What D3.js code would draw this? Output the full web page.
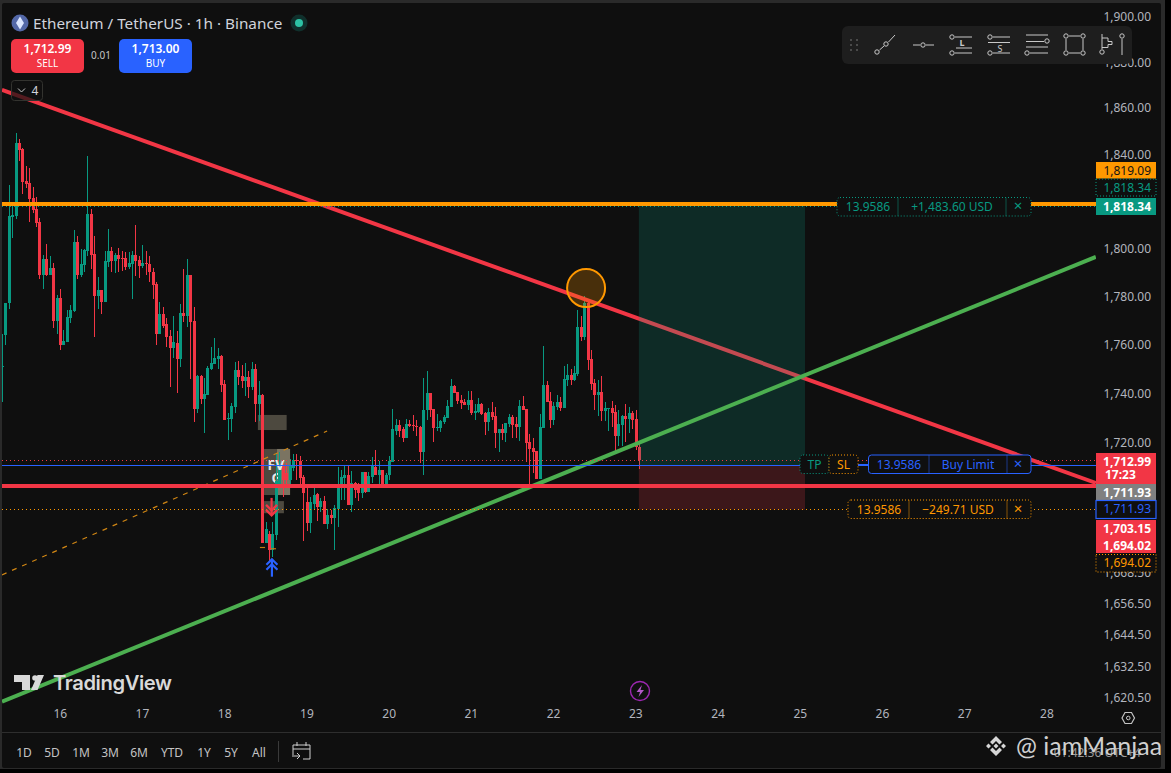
<!DOCTYPE html>
<html lang='en'>

<head>
    <meta charset='utf-8'>
    <title>ETHUSDT 1h</title>
    <style>
        html,
        body {
            margin: 0;
            background-color: #000;
            overflow: hidden;
        }

        svg {
            display: block;
            font-family: 'Noto Sans', sans-serif;
        }
    </style>
    <script src='https://d3js.org/d3.v7.min.js' charset='utf-8'></script>
</head>

<body>
    <div id='placeholder'></div>
    <script type="text/javascript">
        const WIDTH = 1171;
        const HEIGHT = 773;

        const GREEN = '#089981';
        const RED = '#f23645';
        const BLUE = '#2962ff';
        const ORANGE = '#ff9800';
        const PANEL = '#0f0f0f';
        const GRAY = '#b2b5be';

        // hourly candles, first one is bar 0, midnight of the 16th is bar 17
        const opens = [1751.0, 1764.1, 1777.0, 1813.1, 1813.6, 1844.8, 1842.4, 1828.6, 1827.8, 1821.3, 1816.6, 1811.1, 1789.0, 1795.5, 1789.0, 1791.9, 1769.6, 1779.1, 1759.9, 1761.2,
            1770.8, 1773.7, 1802.7, 1789.0, 1793.2, 1799.1, 1814.4, 1797.8, 1779.9, 1782.4, 1777.4, 1794.4, 1799.0, 1794.9, 1797.3, 1796.0, 1796.1, 1792.4, 1793.6, 1797.3,
            1795.3, 1792.8, 1794.0, 1793.6, 1790.3, 1784.9, 1764.5, 1772.8, 1768.3, 1763.7, 1758.7, 1760.8, 1754.1, 1773.2, 1771.6, 1789.0, 1769.9, 1733.8, 1747.1, 1737.9,
            1739.2, 1750.0, 1752.1, 1754.1, 1755.4, 1743.7, 1729.6, 1729.6, 1734.6, 1749.6, 1747.1, 1745.0, 1746.7, 1742.5, 1750.0, 1735.9, 1739.2, 1680.3, 1683.9, 1677.6,
            1683.5, 1703.2, 1710.7, 1708.0, 1705.3, 1710.0, 1713.1, 1712.7, 1706.2, 1696.5, 1688.0, 1695.8, 1699.5, 1694.5, 1696.9, 1687.7, 1691.2, 1690.0, 1693.8, 1702.6,
            1706.0, 1707.0, 1695.2, 1703.8, 1703.3, 1699.9, 1708.2, 1700.5, 1706.2, 1710.3, 1707.3, 1709.0, 1703.3, 1707.0, 1712.3, 1725.0, 1727.1, 1725.5, 1721.8, 1727.8,
            1727.1, 1726.8, 1726.3, 1716.4, 1733.3, 1740.3, 1733.7, 1725.9, 1725.9, 1728.3, 1730.0, 1734.5, 1743.1, 1740.7, 1737.4, 1736.6, 1735.3, 1737.4, 1732.0, 1732.4,
            1735.7, 1732.0, 1728.3, 1732.4, 1730.8, 1724.2, 1725.5, 1724.2, 1727.5, 1730.4, 1727.5, 1726.3, 1734.9, 1733.7, 1720.5, 1718.1, 1716.8, 1705.7, 1725.9, 1743.5,
            1737.0, 1729.2, 1734.5, 1736.6, 1734.1, 1745.6, 1747.7, 1745.6, 1748.1, 1767.4, 1763.3, 1777.2, 1754.2, 1744.4, 1739.4, 1740.7, 1732.9, 1733.7, 1734.1, 1732.4,
            1723.0, 1727.1, 1730.8, 1729.6, 1732.0, 1729.6, 1718.5];
        const highs = [1764.5, 1777.3, 1826.8, 1818.1, 1849.2, 1846.6, 1842.6, 1835.0, 1834.1, 1826.0, 1821.7, 1813.0, 1797.3, 1801.8, 1796.9, 1793.9, 1780.7, 1783.2, 1765.8, 1774.1,
            1776.2, 1807.7, 1805.2, 1799.8, 1799.8, 1839.3, 1816.5, 1805.2, 1788.2, 1782.4, 1799.0, 1808.2, 1800.7, 1798.2, 1800.3, 1799.0, 1798.6, 1798.6, 1799.0, 1809.8,
            1796.9, 1801.5, 1799.0, 1796.9, 1791.9, 1786.1, 1777.4, 1775.7, 1770.8, 1765.8, 1771.6, 1765.4, 1776.6, 1791.5, 1795.7, 1789.0, 1775.7, 1747.5, 1747.5, 1746.2,
            1751.2, 1759.1, 1762.9, 1758.7, 1755.8, 1745.4, 1732.1, 1736.3, 1752.9, 1753.3, 1751.6, 1752.5, 1749.1, 1752.9, 1752.1, 1745.0, 1739.6, 1688.4, 1685.0, 1688.4,
            1716.1, 1716.3, 1712.7, 1712.0, 1713.4, 1715.4, 1715.4, 1714.7, 1707.3, 1701.9, 1698.5, 1702.6, 1700.1, 1698.1, 1698.8, 1693.8, 1693.1, 1695.2, 1710.3, 1709.3,
            1711.1, 1711.1, 1708.9, 1704.2, 1703.9, 1708.2, 1708.2, 1708.2, 1714.3, 1717.2, 1712.7, 1709.3, 1708.1, 1714.8, 1733.7, 1729.6, 1729.2, 1726.3, 1729.6, 1729.2,
            1731.2, 1729.2, 1726.7, 1746.4, 1749.3, 1740.3, 1733.7, 1731.6, 1729.2, 1731.2, 1737.4, 1746.0, 1743.5, 1740.7, 1739.4, 1737.8, 1741.1, 1741.1, 1735.7, 1738.2,
            1736.1, 1732.4, 1734.1, 1736.6, 1734.5, 1725.5, 1727.5, 1727.9, 1731.6, 1731.2, 1730.4, 1737.4, 1739.0, 1733.7, 1723.7, 1721.8, 1716.8, 1731.6, 1759.6, 1745.2,
            1740.7, 1736.6, 1739.4, 1738.6, 1751.4, 1752.2, 1750.1, 1751.4, 1774.4, 1771.9, 1779.9, 1778.5, 1757.9, 1746.0, 1745.6, 1747.2, 1736.6, 1734.1, 1737.0, 1735.3,
            1733.3, 1731.2, 1735.7, 1734.5, 1732.9, 1733.3, 1720.9];
        const lows = [1736.7, 1759.9, 1774.5, 1804.5, 1812.6, 1837.1, 1823.0, 1825.6, 1811.1, 1814.9, 1809.1, 1787.0, 1782.8, 1788.6, 1789.0, 1766.9, 1764.5, 1757.9, 1759.9, 1761.2,
            1768.7, 1773.4, 1787.0, 1788.2, 1790.3, 1796.7, 1791.5, 1763.3, 1774.5, 1772.8, 1777.4, 1792.4, 1789.9, 1789.5, 1790.3, 1790.7, 1791.1, 1791.5, 1778.7, 1788.6,
            1787.4, 1791.9, 1789.0, 1786.1, 1778.7, 1759.9, 1764.5, 1767.0, 1759.1, 1742.5, 1754.6, 1740.4, 1750.8, 1769.5, 1767.4, 1745.8, 1728.4, 1732.1, 1735.9, 1724.2,
            1739.2, 1749.6, 1752.1, 1750.0, 1740.8, 1729.2, 1721.3, 1724.6, 1732.1, 1743.3, 1742.1, 1738.8, 1738.3, 1741.3, 1728.4, 1728.8, 1680.3, 1680.3, 1672.6, 1674.6,
            1681.6, 1702.8, 1698.5, 1701.9, 1702.6, 1708.7, 1705.3, 1703.2, 1681.0, 1685.0, 1684.3, 1693.8, 1688.8, 1692.5, 1687.7, 1685.7, 1687.7, 1677.6, 1686.4, 1697.2,
            1697.2, 1695.2, 1692.5, 1697.9, 1696.9, 1697.9, 1699.9, 1700.5, 1703.9, 1707.3, 1703.7, 1702.9, 1703.3, 1705.3, 1712.3, 1723.4, 1722.2, 1720.5, 1721.8, 1726.3,
            1725.0, 1723.0, 1712.0, 1707.2, 1729.2, 1730.4, 1720.5, 1725.0, 1724.6, 1727.5, 1730.0, 1734.5, 1740.3, 1735.7, 1733.7, 1735.3, 1733.3, 1731.2, 1729.2, 1732.0,
            1731.2, 1723.4, 1725.0, 1729.2, 1718.1, 1716.4, 1721.3, 1720.5, 1726.3, 1721.8, 1721.8, 1720.9, 1733.3, 1712.2, 1702.9, 1707.8, 1705.7, 1705.7, 1725.9, 1736.6,
            1725.9, 1727.1, 1733.3, 1732.9, 1734.1, 1743.1, 1743.5, 1745.2, 1747.2, 1761.6, 1762.0, 1749.7, 1741.5, 1733.3, 1730.8, 1728.7, 1728.7, 1725.0, 1726.3, 1716.4,
            1718.9, 1718.9, 1720.5, 1724.2, 1725.5, 1717.2, 1709.4];
        const closes = [1751.4, 1777.3, 1813.6, 1814.0, 1844.8, 1841.9, 1828.2, 1827.3, 1820.9, 1816.2, 1810.8, 1789.0, 1795.5, 1789.0, 1791.9, 1769.6, 1779.1, 1759.9, 1761.6, 1771.2,
            1774.1, 1802.7, 1789.0, 1793.6, 1799.4, 1814.4, 1797.3, 1779.9, 1782.4, 1777.4, 1794.9, 1799.0, 1794.9, 1797.3, 1795.7, 1795.5, 1792.4, 1794.0, 1797.3, 1794.9,
            1792.8, 1794.0, 1793.6, 1789.9, 1784.5, 1764.5, 1772.8, 1767.8, 1763.3, 1758.7, 1761.2, 1754.1, 1773.2, 1771.6, 1789.0, 1769.5, 1733.8, 1747.1, 1737.9, 1739.6,
            1750.4, 1752.5, 1754.6, 1755.4, 1743.3, 1729.2, 1730.0, 1735.0, 1749.6, 1746.7, 1745.0, 1746.7, 1742.5, 1750.0, 1735.9, 1739.2, 1680.3, 1685.6, 1677.6, 1683.9,
            1704.6, 1710.7, 1705.3, 1705.3, 1710.7, 1713.1, 1712.7, 1706.0, 1699.9, 1688.0, 1696.5, 1699.2, 1694.5, 1696.9, 1687.7, 1691.4, 1690.0, 1694.1, 1702.6, 1706.2,
            1707.0, 1695.2, 1703.8, 1701.4, 1699.9, 1708.2, 1700.5, 1706.6, 1710.7, 1707.3, 1709.1, 1703.3, 1707.2, 1712.6, 1725.5, 1727.1, 1725.0, 1721.8, 1727.8, 1726.7,
            1726.7, 1726.4, 1716.4, 1733.3, 1740.3, 1733.3, 1725.9, 1726.3, 1728.7, 1730.4, 1734.9, 1743.1, 1740.3, 1737.0, 1736.1, 1735.3, 1737.4, 1732.0, 1732.9, 1735.7,
            1731.6, 1728.3, 1732.4, 1730.4, 1724.2, 1725.5, 1724.2, 1727.9, 1730.4, 1727.1, 1726.3, 1734.9, 1733.3, 1720.1, 1717.6, 1716.4, 1705.7, 1726.3, 1743.5, 1736.6,
            1729.2, 1734.9, 1736.6, 1734.1, 1746.0, 1747.7, 1745.6, 1748.5, 1767.4, 1763.3, 1777.2, 1753.8, 1743.9, 1739.4, 1740.7, 1732.9, 1734.1, 1734.1, 1732.0, 1723.0,
            1727.5, 1730.8, 1729.6, 1732.0, 1729.2, 1718.5, 1712.99];

        const dayHours = [17, 41, 65, 89, 113, 137, 161, 185, 209, 233, 257, 281, 305];
        const dayLabels = ['16', '17', '18', '19', '20', '21', '22', '23', '24', '25', '26', '27', '28'];
        const priceTicks = [1900, 1880, 1860, 1840, 1800, 1780, 1760, 1740, 1720, 1668.5, 1656.5, 1644.5, 1632.5, 1620.5];
        const rangeLabels = ['1D', '5D', '1M', '3M', '6M', 'YTD', '1Y', '5Y', 'All'];
        const rangeCenters = [24, 52, 81, 110, 139, 172, 204, 231, 259];

        // drawings, [hour, price]
        const chartEndHour = 319.2;
        const resistance = [[-0.1, 1867.9], [chartEndHour, 1704.0]];
        const support = [[-0.1, 1619.1], [chartEndHour, 1796.4]];
        const dashedTrend = [[-0.1, 1667.8], [94.8, 1724.8]];
        const lowDashes = [[75.2, 1678.5], [76.7, 1678.5], [78.4, 1678.0], [79.9, 1678.0]];
        const tpPrice = 1818.8;
        const tpOrderPrice = 1818.34;
        const tpOrderLine = 1817.5;
        const askPrice = 1712.8;
        const orderPrice = 1711.1;
        const supportPrice = 1702.9;
        const slPrice = 1693.4;
        const tradeHours = [185.8, 234.3];
        const circleAt = [170.4, 1783.4];
        const fvgBoxes = [
            [74.6, 83, 1731.3, 1725.2],
            [76.4, 84, 1717.6, 1699.2],
            [80.2, 84, 1717.6, 1699.2],
            [76.4, 82.2, 1696.8, 1692]
        ];
        const sellArrowAt = [78.6, 1694.5];
        const buyArrowAt = [78.7, 1670.6];

        var x = d3.scaleLinear().domain([0, 186]).range([2.3, 2.3 + 3.426 * 186]);
        var y = d3.scaleLog().domain([1900, 1620.5]).range([17, 698]);
        var line = d3.line().x(function (d) { return x(d[0]); }).y(function (d) { return y(d[1]); });

        var svg = d3.select('#placeholder')
            .append('svg')
            .attr('width', WIDTH)
            .attr('height', HEIGHT);

        // frame
        svg.append('rect').attr('width', WIDTH).attr('height', HEIGHT).attr('fill', '#000');
        svg.append('rect').attr('width', 1165).attr('height', 769).attr('fill', '#2a2a2a');
        svg.append('rect').attr('x', 2).attr('y', 3).attr('width', 1159).attr('height', 765).attr('fill', PANEL).attr('rx', 2);
        svg.append('defs').append('clipPath').attr('id', 'pane')
            .append('rect').attr('x', 2).attr('y', 3).attr('width', 1094).attr('height', 729);

        // price axis sits under the toolbar
        var yAxis = svg.append('g')
            .attr('transform', 'translate(1151,0)')
            .call(d3.axisRight(y).tickValues(priceTicks).tickSize(0).tickPadding(0).tickFormat(d3.format(',.2f')));
        yAxis.select('.domain').remove();
        yAxis.selectAll('text').attr('text-anchor', 'end').attr('fill', GRAY).attr('font-size', 12).attr('font-family', 'Noto Sans');

        var xAxis = svg.append('g')
            .attr('transform', 'translate(-0.8,709)')
            .call(d3.axisBottom(x).tickValues(dayHours).tickSize(0).tickPadding(0).tickFormat(function (d, i) { return dayLabels[i]; }));
        xAxis.select('.domain').remove();
        xAxis.selectAll('text').attr('fill', GRAY).attr('font-size', 12).attr('font-family', 'Noto Sans');

        var pane = svg.append('g').attr('clip-path', 'url(#pane)');

        // fvg boxes are under the candles
        pane.selectAll('.fvg')
            .data(fvgBoxes)
            .enter()
            .append('rect')
            .attr('x', function (d) { return x(d[0]); })
            .attr('y', function (d) { return y(d[2]); })
            .attr('width', function (d) { return x(d[1]) - x(d[0]); })
            .attr('height', function (d) { return y(d[3]) - y(d[2]); })
            .attr('fill', 'rgba(255, 240, 200, 0.26)');
        pane.append('text').text('G').attr('x', 276.5).attr('y', 483).attr('text-anchor', 'middle')
            .attr('font-size', 14).attr('font-weight', 700).attr('fill', '#e8e8e8');

        var candles = pane.selectAll('.candle')
            .data(opens)
            .enter()
            .append('g')
            .attr('shape-rendering', 'crispEdges')
            .attr('fill', function (d, i) { return closes[i] >= d ? GREEN : RED; });
        candles.append('rect')
            .attr('x', function (d, i) { return x(i) - 0.5; })
            .attr('width', 1)
            .attr('y', function (d, i) { return y(highs[i]); })
            .attr('height', function (d, i) { return y(lows[i]) - y(highs[i]); });
        candles.append('rect')
            .attr('x', function (d, i) { return x(i) - 1.5; })
            .attr('width', 3)
            .attr('y', function (d, i) { return y(Math.max(d, closes[i])); })
            .attr('height', function (d, i) { return Math.max(1, Math.abs(y(d) - y(closes[i]))); });

        pane.append('text').text('FV').attr('x', 276).attr('y', 470).attr('text-anchor', 'middle')
            .attr('font-size', 14).attr('font-weight', 700).attr('fill', '#e8e8e8');

        pane.append('path').attr('d', line(dashedTrend)).attr('fill', 'none')
            .attr('stroke', '#d08614').attr('stroke-width', 1.2).attr('stroke-dasharray', '5,6');
        for (var k = 0; k < lowDashes.length; k += 2) {
            pane.append('path').attr('d', line(lowDashes.slice(k, k + 2))).attr('fill', 'none')
                .attr('stroke', '#c47c12').attr('stroke-width', 1.2);
        }
        pane.append('path').attr('d', line(resistance)).attr('fill', 'none').attr('stroke', RED).attr('stroke-width', 4);

        // trade zones go over the falling line only
        pane.append('rect')
            .attr('x', x(tradeHours[0])).attr('width', x(tradeHours[1]) - x(tradeHours[0]))
            .attr('y', y(tpOrderPrice)).attr('height', y(orderPrice) - y(tpOrderPrice))
            .attr('fill', GREEN).attr('fill-opacity', 0.2);
        pane.append('rect')
            .attr('x', x(tradeHours[0])).attr('width', x(tradeHours[1]) - x(tradeHours[0]))
            .attr('y', y(orderPrice)).attr('height', y(slPrice) - y(orderPrice))
            .attr('fill', RED).attr('fill-opacity', 0.2);

        pane.append('path').attr('d', line(support)).attr('fill', 'none').attr('stroke', '#4caf50').attr('stroke-width', 4);

        function level(price, color, width, dash) {
            var h = pane.append('path')
                .attr('d', line([[-0.1, price], [chartEndHour, price]]))
                .attr('stroke', color)
                .attr('stroke-width', width)
                .attr('shape-rendering', 'crispEdges');
            if (dash) {
                h.attr('stroke-dasharray', dash);
            }
        }
        level(askPrice, RED, 1, '1,3');
        level(tpOrderLine, GREEN, 1, '1,3');
        level(slPrice, ORANGE, 1, '1,3');
        level(orderPrice, BLUE, 1);
        level(tpPrice, ORANGE, 4);
        level(supportPrice, RED, 4);

        pane.append('circle')
            .attr('cx', x(circleAt[0])).attr('cy', y(circleAt[1])).attr('r', 19)
            .attr('fill', ORANGE).attr('fill-opacity', 0.24)
            .attr('stroke', ORANGE).attr('stroke-width', 2);

        // signal arrows
        function arrow(at, color, dir) {
            var g = svg.append('g')
                .attr('transform', 'translate(' + x(at[0]) + ',' + y(at[1]) + ') scale(1,' + dir + ')')
                .attr('fill', 'none').attr('stroke', color).attr('stroke-width', 2.2);
            g.append('path').attr('d', 'M0,-8V9');
            g.append('path').attr('d', 'M-5.5,-3L0,-8.5L5.5,-3');
            g.append('path').attr('d', 'M-5.5,2L0,-3.5L5.5,2');
        }
        arrow(sellArrowAt, RED, -1);
        arrow(buyArrowAt, BLUE, 1);

        // tag with dividers, used for the order rows
        function orderTag(x0, x1, top, color, dash, dividers, cells) {
            var g = svg.append('g');
            var r = g.append('rect').attr('x', x0).attr('y', top).attr('width', x1 - x0).attr('height', 18.5)
                .attr('rx', 3).attr('fill', PANEL).attr('stroke', color).attr('stroke-width', 1);
            if (dash) {
                r.attr('stroke-dasharray', '1,2');
            }
            dividers.forEach(function (d) {
                g.append('line').attr('x1', d).attr('x2', d).attr('y1', top).attr('y2', top + 18.5)
                    .attr('stroke', color).attr('stroke-opacity', 0.5);
            });
            cells.forEach(function (c) {
                g.append('text').text(c[1]).attr('x', c[0]).attr('y', top + 13.5).attr('text-anchor', 'middle')
                    .attr('font-size', c[1] === '×' ? 15 : 12).attr('fill', color);
            });
        }
        svg.append('line').attr('x1', 858).attr('x2', 868).attr('y1', 464.5).attr('y2', 464.5).attr('stroke', BLUE);
        orderTag(837, 1031, 197.5, GREEN, true, [898, 1006], [[868, '13.9586'], [952, '+1,483.60 USD'], [1018, '×']]);
        orderTag(800, 829, 455, GREEN, true, [], [[814.5, 'TP']]);
        orderTag(829, 858, 455, ORANGE, true, [], [[843.5, 'SL']]);
        orderTag(868.5, 1031, 455, BLUE, false, [929, 1007], [[899, '13.9586'], [968, 'Buy Limit'], [1018, '×']]);
        orderTag(848, 1031, 500, ORANGE, true, [909, 1007], [[879, '13.9586'], [958, '−249.71 USD'], [1018, '×']]);

        // price tags on the axis
        function priceTag(top, h, fill, stroke, dash, color, weight, rows, gap) {
            var r = svg.append('rect').attr('x', 1096).attr('y', top).attr('width', 60).attr('height', h)
                .attr('fill', fill);
            if (stroke) {
                r.attr('stroke', stroke).attr('stroke-width', dash ? 1 : 1.2).attr('stroke-dasharray', dash);
            }
            rows.forEach(function (t, i) {
                var isTimer = t.indexOf(':') > 0;
                svg.append('text').text(t)
                    .attr('x', isTimer ? 1105 : 1151)
                    .attr('y', top + 12.5 + i * (gap || 0))
                    .attr('text-anchor', isTimer ? 'start' : 'end')
                    .attr('font-size', 12).attr('font-weight', weight).attr('fill', color);
            });
        }
        priceTag(162, 16.5, ORANGE, null, null, '#131313', 400, ['1,819.09']);
        priceTag(179, 17, PANEL, GREEN, '1,2', GREEN, 400, ['1,818.34']);
        priceTag(198, 17, GREEN, null, null, '#fff', 700, ['1,818.34']);
        priceTag(453, 31, RED, null, null, '#fff', 700, ['1,712.99', '17:23'], 13.5);
        priceTag(484, 16, '#808080', null, null, '#fff', 700, ['1,711.93']);
        priceTag(500.5, 18, PANEL, BLUE, null, BLUE, 400, ['1,711.93']);
        priceTag(520, 33, RED, null, null, '#fff', 700, ['1,703.15', '1,694.02'], 17.5);
        priceTag(554.5, 17.5, PANEL, ORANGE, '1,2', ORANGE, 400, ['1,694.02']);

        // legend, top left
        svg.append('circle').attr('cx', 20).attr('cy', 23).attr('r', 8.5).attr('fill', '#5368a8');
        svg.append('path').attr('d', 'M20,16.5L24,23L20,29.5L16,23Z').attr('fill', '#dbe6ff');
        svg.append('text').text('Ethereum / TetherUS · 1h · Binance').attr('x', 33).attr('y', 29)
            .attr('font-size', 15.3).attr('fill', '#d1d4dc');
        svg.append('circle').attr('cx', 299).attr('cy', 23).attr('r', 8.5).attr('fill', '#10302c');
        svg.append('circle').attr('cx', 299).attr('cy', 23).attr('r', 4).attr('fill', '#2dc2a4');

        function tradeButton(left, fill, price, label) {
            svg.append('rect').attr('x', left).attr('y', 39).attr('width', 73).attr('height', 34).attr('rx', 5).attr('fill', fill);
            svg.append('text').text(price).attr('x', left + 36.5).attr('y', 53).attr('text-anchor', 'middle')
                .attr('font-size', 12).attr('font-weight', 600).attr('fill', '#fff');
            svg.append('text').text(label).attr('x', left + 36.5).attr('y', 67).attr('text-anchor', 'middle')
                .attr('font-size', 10).attr('fill', '#fff');
        }
        tradeButton(11, RED, '1,712.99', 'SELL');
        tradeButton(119, BLUE, '1,713.00', 'BUY');
        svg.append('text').text('0.01').attr('x', 101).attr('y', 59).attr('text-anchor', 'middle')
            .attr('font-size', 10).attr('fill', '#c4c4c4');

        svg.append('rect').attr('x', 11.5).attr('y', 80.5).attr('width', 31).attr('height', 20).attr('rx', 3)
            .attr('fill', 'rgba(15,15,15,0.7)').attr('stroke', '#33332f');
        svg.append('path').attr('d', 'M18,88.5L21.5,92L25,88.5').attr('fill', 'none').attr('stroke', '#c8c8c8');
        svg.append('text').text('4').attr('x', 35).attr('y', 95).attr('text-anchor', 'middle')
            .attr('font-size', 12).attr('fill', '#d1d4dc');

        // floating drawing toolbar
        svg.append('rect').attr('x', 842).attr('y', 26).attr('width', 290).attr('height', 38).attr('rx', 6).attr('fill', '#1e1e1e');
        [851, 857].forEach(function (cx) {
            [40, 45, 50].forEach(function (cy) {
                svg.append('rect').attr('x', cx - 1).attr('y', cy - 1).attr('width', 2).attr('height', 2).attr('fill', '#4a4a4a');
            });
        });
        var tools = svg.append('g').attr('fill', 'none').attr('stroke', '#c8c8c8').attr('stroke-width', 1);
        var toolPaths = [
            'M879.5,50L884,46M888.5,42L895,35',
            'M913,45H920M926,45H934',
            'M955,37H972M956,48H972M955,53H972',
            'M993,37H1010M988,42.5H1010M993,53H1010',
            'M1026,35H1048M1026,41.5H1044M1026,47H1048M1030,53H1048',
            'M1069,36H1080M1069,53H1080M1066,39V50M1083,39V50',
            'M1102,34V49M1102,38H1108V41.5H1112V44.5H1108V47.5H1102',
            'M1122,39V55'
        ];
        toolPaths.forEach(function (d) {
            tools.append('path').attr('d', d);
        });
        var toolDots = [[877, 52], [886, 44], [923, 45], [952, 37], [952, 53], [990, 37], [990, 53], [1047, 41], [1027, 53],
            [1066, 36], [1083, 36], [1066, 53], [1083, 53], [1102, 52], [1122, 36]];
        toolDots.forEach(function (d) {
            tools.append('circle').attr('cx', d[0]).attr('cy', d[1]).attr('r', 2.2);
        });
        svg.append('text').text('L').attr('x', 962).attr('y', 46).attr('text-anchor', 'middle').attr('font-size', 9).attr('font-weight', 700).attr('fill', '#c8c8c8');
        svg.append('text').text('S').attr('x', 1000).attr('y', 52).attr('text-anchor', 'middle').attr('font-size', 9).attr('fill', '#c8c8c8');

        // tradingview logo
        svg.append('path').attr('d', 'M14,675H30V690H22V682H14ZM31,690L37.5,675H44L37.5,690Z').attr('fill', '#d9d9d9');
        svg.append('circle').attr('cx', 35).attr('cy', 678).attr('r', 2.8).attr('fill', '#d9d9d9');
        svg.append('text').text('TradingView').attr('x', 53).attr('y', 690).attr('font-size', 20.2).attr('font-weight', 600)
            .attr('font-family', 'Inter').attr('letter-spacing', -0.4).attr('fill', '#d9d9d9');

        // news flash button
        svg.append('circle').attr('cx', 640).attr('cy', 691).attr('r', 9.5).attr('fill', 'none').attr('stroke', '#9c27b0').attr('stroke-width', 1.4);
        svg.append('path').attr('d', 'M642,685L636.5,692H640L638.5,697L644,690H640.5Z').attr('fill', '#b45ac8');

        // settings
        svg.append('path').attr('d', 'M1122,718L1125,712.5H1131.5L1134.5,718L1131.5,723.5H1125Z').attr('fill', 'none').attr('stroke', '#c4c4c4').attr('stroke-width', 1.2);
        svg.append('circle').attr('cx', 1128.3).attr('cy', 718).attr('r', 1.8).attr('fill', 'none').attr('stroke', '#c4c4c4');

        // bottom bar
        svg.append('line').attr('x1', 2).attr('x2', 1161).attr('y1', 732.5).attr('y2', 732.5).attr('stroke', '#2e2e2e');
        svg.selectAll('.range')
            .data(rangeLabels)
            .enter()
            .append('text')
            .text(function (d) { return d; })
            .attr('x', function (d, i) { return rangeCenters[i]; })
            .attr('y', 757)
            .attr('text-anchor', 'middle')
            .attr('font-size', 12)
            .attr('fill', '#c4c4c4');
        svg.append('line').attr('x1', 278.5).attr('x2', 278.5).attr('y1', 741).attr('y2', 762).attr('stroke', '#3a3a3a');
        svg.append('path').attr('d', 'M293,755V745H310V759H303M293,749H310M297,742V746M306,742V746M292,756H300M297,753L300,756L297,759')
            .attr('fill', 'none').attr('stroke', '#d0d0d0');

        svg.append('text').text('01:42:36 UTC+4').attr('x', 1141).attr('y', 757).attr('text-anchor', 'end')
            .attr('font-size', 12).attr('fill', '#9a9a9a');

        // binance watermark
        var wm = svg.append('g').attr('transform', 'translate(996,746)').attr('fill', '#d6d6d6');
        wm.append('path').attr('d', 'M0,-10L6,-4L3.5,-1.5L0,-5L-3.5,-1.5L-6,-4ZM0,10L6,4L3.5,1.5L0,5L-3.5,1.5L-6,4Z');
        wm.append('path').attr('d', 'M0,-2.5L2.5,0L0,2.5L-2.5,0Z');
        wm.append('path').attr('d', 'M-10,0L-7.5,-2.5L-5,0L-7.5,2.5ZM10,0L7.5,-2.5L5,0L7.5,2.5Z');
        svg.append('text').text('@ iamManjaa').attr('x', 1016).attr('y', 755).attr('font-size', 25)
            .attr('font-family', 'Lato').attr('fill', '#d0d0d0');
    </script>
</body>

</html>
